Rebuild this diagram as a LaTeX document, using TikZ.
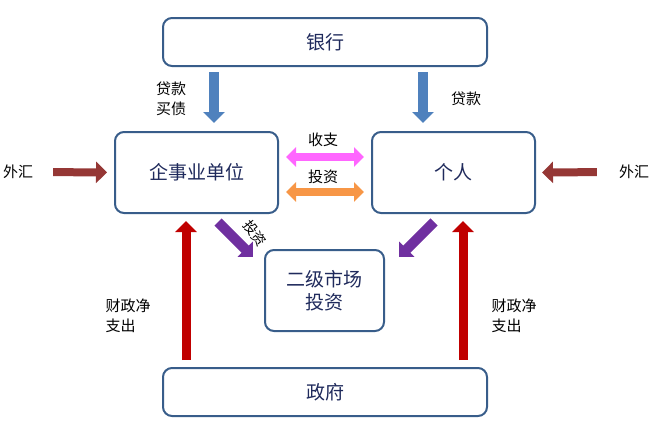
\documentclass[tikz,border=0pt]{standalone}
\usepackage{fontspec}
\newfontfamily\cjk{Noto Sans CJK SC}
\usetikzlibrary{arrows.meta,positioning}
\definecolor{boxline}{HTML}{385D8A}
\definecolor{boxtext}{HTML}{1F2A5C}
\definecolor{loanblue}{HTML}{4F81BD}
\definecolor{fxred}{HTML}{953735}
\definecolor{flowpink}{HTML}{FF66FF}
\definecolor{flowamber}{HTML}{F79646}
\definecolor{invpurp}{HTML}{7030A0}
\definecolor{fiscred}{HTML}{C00000}
\tikzset{
  unit/.style={draw=boxline,line width=2pt,rounded corners=9pt,fill=white,
    text=boxtext,font=\cjk\fontsize{19}{23}\selectfont,align=center,inner sep=0pt},
  tag/.style={font=\cjk\fontsize{15}{20}\selectfont,inner sep=0pt},
  fat/.style={line width=10pt,-{Triangle[length=11pt,width=21pt]}},
  fatboth/.style={line width=8pt,
    {Triangle[length=10pt,width=19pt]}-{Triangle[length=10pt,width=19pt]}},
}
\begin{document}
\begin{tikzpicture}[x=1pt,y=-1pt]
  \useasboundingbox (0,0) rectangle (657,434);
  % boxes
  \node[unit,minimum width=324pt,minimum height=48pt] (bank) at (325,42) {银行};
  \node[unit,minimum width=163pt,minimum height=81pt] (corp) at (196.5,172.5) {企事业单位};
  \node[unit,minimum width=163pt,minimum height=81pt] (person) at (453.5,172.5) {个人};
  \node[unit,minimum width=119pt,minimum height=81pt] (market) at (324.5,290.5) {二级市场\\投资};
  \node[unit,minimum width=324pt,minimum height=48pt] (gov) at (325,392) {政府};
  % labels
  \node[tag,align=center] (loanA) at (171,99) {贷款\\买债};
  \node[tag] (loanB) at (466,99) {贷款};
  \node[tag] (fxL) at (18,172) {外汇};
  \node[tag] (fxR) at (634,172) {外汇};
  \node[tag] (pay) at (323,140) {收支};
  \node[tag] (inv) at (323,177) {投资};
  \node[tag,font=\cjk\fontsize{14}{16}\selectfont,rotate=-52] (invA) at (255,233) {投资};
  \node[tag,align=left] (fiscL) at (128,316) {财政净\\支出};
  \node[tag,align=left] (fiscR) at (514,316) {财政净\\支出};
  % loans
  \draw[fat,loanblue,shorten <=5pt,shorten >=8pt]
    ([xshift=17.5pt]corp.north |- bank.south) -- ([xshift=17.5pt]corp.north);
  \draw[fat,loanblue,shorten <=5pt,shorten >=8pt]
    ([xshift=-30.5pt]person.north |- bank.south) -- ([xshift=-30.5pt]person.north);
  % foreign exchange
  \draw[fat,fxred,line width=8pt,shorten <=20pt,shorten >=7pt] (fxL.east) -- (corp.west);
  \draw[fat,fxred,line width=8pt,shorten <=22pt,shorten >=6pt] (fxR.west) -- (person.east);
  % flows between
  \draw[fatboth,flowpink,shorten <=7pt,shorten >=7pt]
    ([yshift=15.5pt]corp.east) -- ([yshift=15.5pt]person.west);
  \draw[fatboth,flowamber,shorten <=7pt,shorten >=7pt]
    ([yshift=-19.5pt]corp.east) -- ([yshift=-19.5pt]person.west);
  % investment
  \draw[fat,invpurp] ([shift={(21.5,8)}]corp.south) -- ([shift={(-11,8)}]market.north west);
  \draw[fat,invpurp] ([shift={(-19.5,8)}]person.south) -- ([shift={(14,8)}]market.north east);
  % fiscal
  \draw[fat,fiscred,line width=9pt,shorten <=7pt,shorten >=7pt]
    ([xshift=-10.5pt]corp.south |- gov.north) -- ([xshift=-10.5pt]corp.south);
  \draw[fat,fiscred,line width=9pt,shorten <=7pt,shorten >=7pt]
    ([xshift=9.5pt]person.south |- gov.north) -- ([xshift=9.5pt]person.south);
\end{tikzpicture}
\end{document}
